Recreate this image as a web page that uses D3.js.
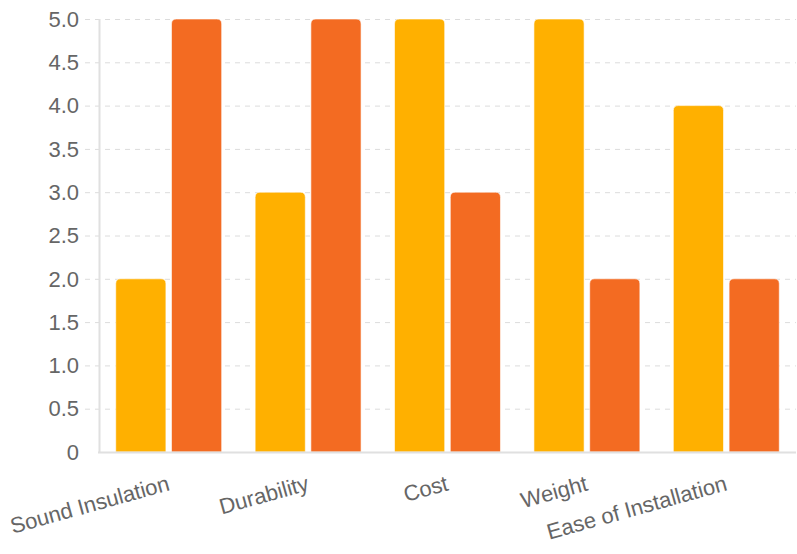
<!DOCTYPE html>
<html>
<head>
<meta charset="utf-8">
<script src="https://cdn.jsdelivr.net/npm/d3@7"></script>
<style>
  html, body { margin: 0; padding: 0; background: #fff; }
  svg { display: block; font-family: "Liberation Sans", Arial, sans-serif; }
</style>
</head>
<body>
<script>
// data
const categories = ["Sound Insulation", "Durability", "Cost", "Weight", "Ease of Installation"];
const seriesNames = ["Option A", "Option B"];
const seriesA = [2, 3, 5, 5, 4];
const seriesB = [5, 5, 3, 2, 2];
const yTicks = [0, 0.5, 1, 1.5, 2, 2.5, 3, 3.5, 4, 4.5, 5];
const colors = ["#FFB000", "#F36B22"];

const width = 797;
const height = 554;
const plot = { left: 99, right: 796, top: 19, bottom: 452 };

const svg = d3.select("body").append("svg")
    .attr("width", width)
    .attr("height", height);

const x = d3.scaleBand()
    .domain(categories)
    .range([plot.left, plot.right])
    .paddingInner(0.2)
    .paddingOuter(0.1);

const xInner = d3.scaleBand()
    .domain(seriesNames)
    .range([0, x.bandwidth()])
    .paddingInner(0.1)
    .paddingOuter(0.05);

const y = d3.scaleLinear()
    .domain([0, 5])
    .range([plot.bottom, plot.top]);

// grid lines (dashed)
svg.append("g")
    .selectAll("line")
    .data(yTicks.filter(d => d > 0))
    .join("line")
    .attr("x1", plot.left - 14)
    .attr("x2", plot.right)
    .attr("y1", d => y(d) + 0.5)
    .attr("y2", d => y(d) + 0.5)
    .attr("stroke", "#dcdcdc")
    .attr("stroke-width", 1)
    .attr("stroke-dasharray", "5,5");

// y tick labels
svg.append("g")
    .selectAll("text")
    .data(yTicks)
    .join("text")
    .attr("x", plot.left - 20)
    .attr("y", d => y(d))
    .attr("dy", "0.35em")
    .attr("text-anchor", "end")
    .attr("font-size", 22)
    .attr("fill", "#666")
    .text(d => d === 0 ? "0" : d3.format(".1f")(d));

// bars
const rows = categories.map((c, i) => ({ cat: c, values: [seriesA[i], seriesB[i]] }));
const r = 5;

function barPath(x0, w, yTop, yBot) {
    return `M${x0},${yBot}V${yTop + r}Q${x0},${yTop} ${x0 + r},${yTop}` +
           `H${x0 + w - r}Q${x0 + w},${yTop} ${x0 + w},${yTop + r}V${yBot}Z`;
}

svg.append("g")
    .selectAll("g")
    .data(rows)
    .join("g")
    .attr("transform", d => `translate(${x(d.cat)},0)`)
    .selectAll("path")
    .data(d => d.values.map((v, j) => ({ v, s: seriesNames[j], j })))
    .join("path")
    .attr("d", d => barPath(xInner(d.s), xInner.bandwidth(), y(d.v), y(0)))
    .attr("fill", d => colors[d.j])
    .attr("stroke", "rgba(255,255,255,0.6)")
    .attr("stroke-width", 1);

// axes lines
svg.append("line")
    .attr("x1", plot.left + 0.5).attr("x2", plot.left + 0.5)
    .attr("y1", plot.top).attr("y2", plot.bottom)
    .attr("stroke", "#e0e0e0").attr("stroke-width", 2);

svg.append("line")
    .attr("x1", plot.left - 1).attr("x2", plot.right)
    .attr("y1", plot.bottom + 0.5).attr("y2", plot.bottom + 0.5)
    .attr("stroke", "#e0e0e0").attr("stroke-width", 2);

// x labels, rotated
svg.append("g")
    .selectAll("text")
    .data(categories)
    .join("text")
    .attr("transform", d => `translate(${x(d) + x.bandwidth() / 2 + 2},${plot.bottom + 38}) rotate(-15.5)`)
    .attr("text-anchor", "end")
    .attr("font-size", 22)
    .attr("fill", "#666")
    .text(d => d);
</script>
</body>
</html>
